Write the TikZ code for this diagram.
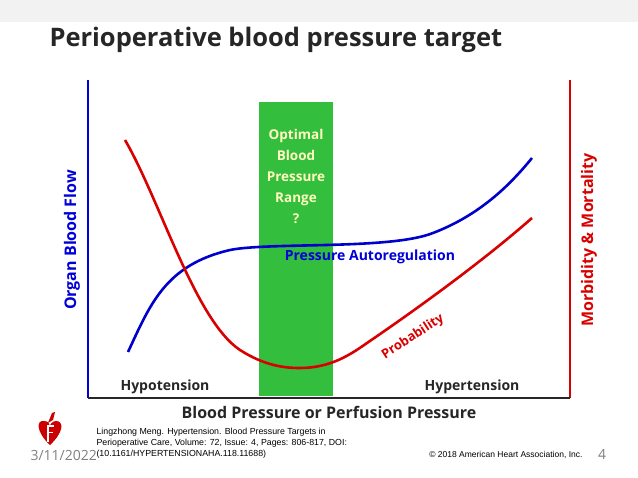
\documentclass[tikz,border=0pt]{standalone}
\usepackage{fontspec}
\setmainfont{Open Sans}
\newfontfamily\arialf{Liberation Sans}
\begin{document}
\begin{tikzpicture}[x=1pt,y=-1pt,
  lab/.style={font=\fontsize{14}{14}\selectfont\bfseries},
  bl/.style={draw=blue!80!black,line width=2.6pt},
  rd/.style={draw=red!85!black,line width=2.6pt},
  cite/.style={font=\arialf\fontsize{8.8}{11}\selectfont,align=left,anchor=west}]
\useasboundingbox (0,0) rectangle (638,478);
\fill[gray!10] (0,0) rectangle (638,22);
\node[anchor=west,font=\fontsize{25.5}{26}\selectfont\bfseries,text=black!85] (title) at (46,40) {Perioperative blood pressure target};
\fill[green!70!black!90!teal!80] (259,102) rectangle (333,396);
\node[lab,text=yellow!25,align=center,font=\fontsize{13.5}{21}\selectfont\bfseries] (opt) at (296,176) {Optimal\\Blood\\Pressure\\Range\\?};
\coordinate (o) at (88,398); \coordinate (r) at (570,398);
\draw[blue!85!black,line width=2.2pt] (88,80) -- (o);
\draw[red!85!black,line width=2.2pt] (570,80) -- (r);
\draw[black!85,line width=2.2pt] (o) -- (r);
\draw[bl] (128,352) .. controls (150,305) and (165,265) .. (230,250)
  .. controls (270,242) and (390,250) .. (433,233)
  .. controls (480,215) and (510,185) .. (532,158);
\draw[rd] (125,140) .. controls (160,200) and (195,320) .. (240,350)
  .. controls (265,366) and (285,368) .. (300,368)
  .. controls (330,368) and (350,355) .. (367,343)
  .. controls (430,300) and (490,255) .. (532,218);
\node[lab,text=blue!85!black] (pa) at (370,257) {Pressure Autoregulation};
\node[lab,text=red!85!black,rotate=33,font=\fontsize{13}{13}\selectfont\bfseries] (pr) at (413,337) {Probability};
\node[lab,text=black!85] (hypo) at (165,387) {Hypotension};
\node[lab,text=black!85] (hyper) at (472,387) {Hypertension};
\node[lab,text=black!85,font=\fontsize{16}{16}\selectfont\bfseries] (xl) at (329,412) {Blood Pressure or Perfusion Pressure};
\node[lab,text=blue!85!black,rotate=90,font=\fontsize{16}{16}\selectfont\bfseries] (yl) at (72,240) {Organ Blood Flow};
\node[lab,text=red!85!black,rotate=90,font=\fontsize{16}{16}\selectfont\bfseries] (yr) at (589,240) {Morbidity \& Mortality};
% logo
\fill[red!80!black] (50,445) .. controls (36,432) and (36,420) .. (44,421) .. controls (48,421) and (50,424) .. (50,426)
  .. controls (50,424) and (53,421) .. (56,421) .. controls (64,421) and (64,432) .. (50,445) -- cycle;
\fill[red!80!black] (48,423) -- (52,413) -- (55,412) -- (53,420) -- cycle;
\draw[white,line width=1.2pt] (48,442) -- (48,426) -- (54,426);
\draw[white,line width=1pt] (48,433) -- (53,433);
\node[cite] (c) at (93,443) {Lingzhong Meng. Hypertension. Blood Pressure Targets in\\Perioperative Care, Volume: 72, Issue: 4, Pages: 806-817, DOI:\\(10.1161/HYPERTENSIONAHA.118.11688)};
\node[anchor=west,text=gray,font=\fontsize{14}{14}\selectfont] (d) at (27,455) {3/11/2022};
\node[anchor=east,font=\arialf\fontsize{8.5}{9}\selectfont] (cp) at (586,455) {© 2018 American Heart Association, Inc.};
\node[text=gray,font=\fontsize{14}{14}\selectfont] (pg) at (602,454) {4};
\end{tikzpicture}
\end{document}
